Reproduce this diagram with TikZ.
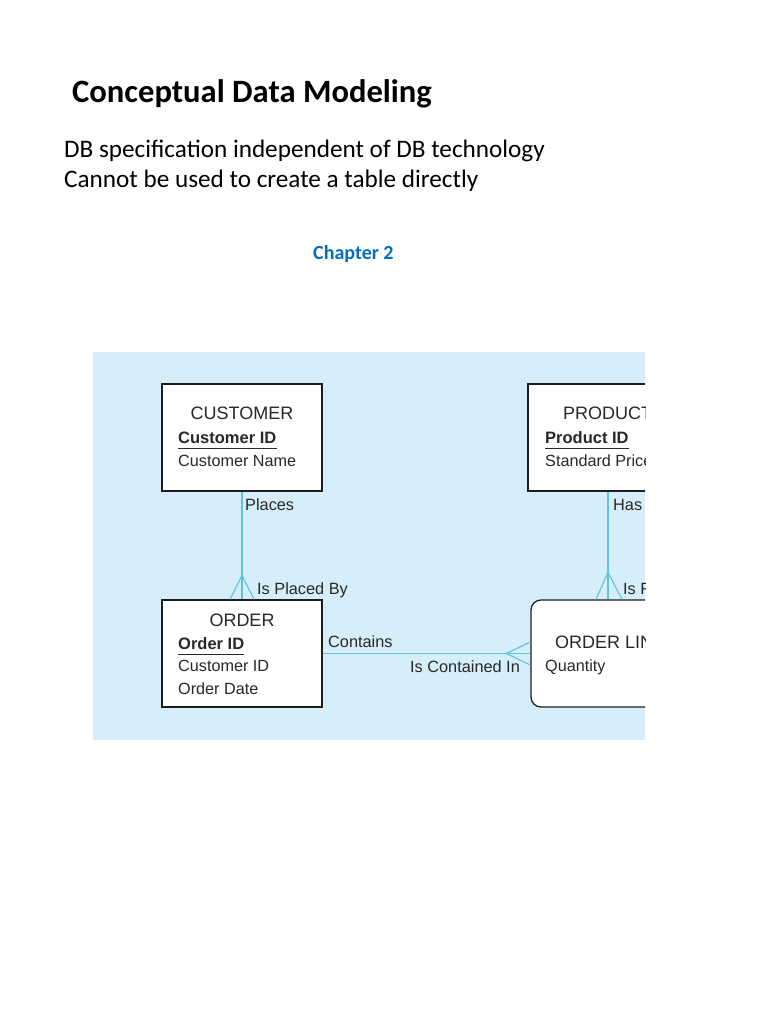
\documentclass[tikz,border=0pt]{standalone}
\usepackage{fontspec}
\setmainfont{Carlito}
\newfontfamily\arialf{Liberation Sans}
\usetikzlibrary{calc}
\definecolor{erbg}{RGB}{213,238,249}
\definecolor{relc}{RGB}{95,195,222}
\definecolor{chapc}{RGB}{0,112,192}
\definecolor{ertext}{RGB}{40,40,40}
\definecolor{erbord}{RGB}{30,30,30}
\tikzset{
  doctext/.style={anchor=base west, inner sep=0pt},
  ebox/.style={draw=erbord, line width=1.3pt, fill=white, minimum width=160pt, minimum height=107pt, inner sep=0pt},
  ename/.style={anchor=base, inner sep=0pt, text=ertext, font=\arialf\fontsize{18}{21}\selectfont},
  eattr/.style={anchor=base west, inner sep=0pt, text=ertext, font=\arialf\fontsize{16.2}{19}\selectfont},
  ekey/.style={eattr, font=\arialf\bfseries\fontsize{16.5}{19}\selectfont},
  rlabel/.style={anchor=base west, inner sep=0pt, text=ertext, font=\arialf\fontsize{16.3}{19}\selectfont},
  rel/.style={draw=relc, line width=1.1pt},
  keyline/.style={draw=ertext, line width=0.9pt}
}
\begin{document}
\begin{tikzpicture}[x=1pt,y=-1pt]
\useasboundingbox (0,0) rectangle (768,1024);
\fill[white] (0,0) rectangle (768,1024);

\node[doctext, font=\bfseries\fontsize{32.6}{38}\selectfont] (title) at (72,103) {Conceptual Data Modeling};
\node[doctext, font=\fontsize{25.2}{30}\selectfont] (line1) at (64,158) {DB specification independent of DB technology};
\node[doctext, font=\fontsize{25.2}{30}\selectfont] (line2) at (64,188) {Cannot be used to create a table directly};
\node[doctext, text=chapc, font=\bfseries\fontsize{20}{24}\selectfont] (chap) at (313,259) {Chapter 2};

\begin{scope}
\clip (93,352) rectangle (645,740);
\fill[erbg] (93,352) rectangle (645,740);

% entity boxes
\node[ebox] (cust) at (242,437.5) {};
\node[ebox] (prod) at (608,437.5) {};
\node[ebox] (ord) at (242,653.5) {};
\node[ebox, rounded corners=10pt, minimum width=158pt] (ol) at (610,653.5) {};

% relationships
\draw[rel] (cust.south) -- (ord.north);
\draw[rel] ($(ord.north)+(0,-24)$) -- ($(ord.north)+(-12,0)$);
\draw[rel] ($(ord.north)+(0,-24)$) -- ($(ord.north)+(12,0)$);

\coordinate (olTop) at (prod.south |- ol.north);
\draw[rel] (prod.south) -- (olTop);
\draw[rel] ($(olTop)+(0,-27)$) -- ($(olTop)+(-12,0)$);
\draw[rel] ($(olTop)+(0,-27)$) -- ($(olTop)+(14,0)$);

\draw[rel] (ord.east) -- (ol.west);
\draw[rel] ($(ol.west)+(-24,0)$) -- ($(ol.west)+(0,-11.5)$);
\draw[rel] ($(ol.west)+(-24,0)$) -- ($(ol.west)+(0,11.5)$);

% CUSTOMER
\node[ename] (custn) at (242,419) {CUSTOMER};
\node[ekey] (custid) at (178,443) {Customer ID};
\draw[keyline] ([yshift=-5pt]custid.base west) -- ([yshift=-5pt]custid.base east);
\node[eattr] (custname) at (178,466) {Customer Name};

% PRODUCT
\node[ename, anchor=base west] (prodn) at (563,419) {PRODUCT};
\node[ekey] (prodid) at (545,443) {Product ID};
\draw[keyline] ([yshift=-5pt]prodid.base west) -- ([yshift=-5pt]prodid.base east);
\node[eattr] (prodprice) at (545,466) {Standard Price};

% ORDER
\node[ename] (ordn) at (242,626) {ORDER};
\node[ekey] (ordid) at (178,649) {Order ID};
\draw[keyline] ([yshift=-5pt]ordid.base west) -- ([yshift=-5pt]ordid.base east);
\node[eattr] (ordcust) at (178,671.5) {Customer ID};
\node[eattr] (orddate) at (178,694) {Order Date};

% ORDER LINE
\node[ename, anchor=base west] (oln) at (555,648) {ORDER LINE};
\node[eattr] (olq) at (545,671) {Quantity};

% relationship labels
\node[rlabel] (lplaces) at (245,510) {Places};
\node[rlabel] (lplacedby) at (257,594) {Is Placed By};
\node[rlabel] (lhas) at (613,510) {Has};
\node[rlabel] (lisfor) at (623,594) {Is For};
\node[rlabel] (lcontains) at (328,647) {Contains};
\node[rlabel] (lcontained) at (410,672) {Is Contained In};
\end{scope}
\end{tikzpicture}
\end{document}
